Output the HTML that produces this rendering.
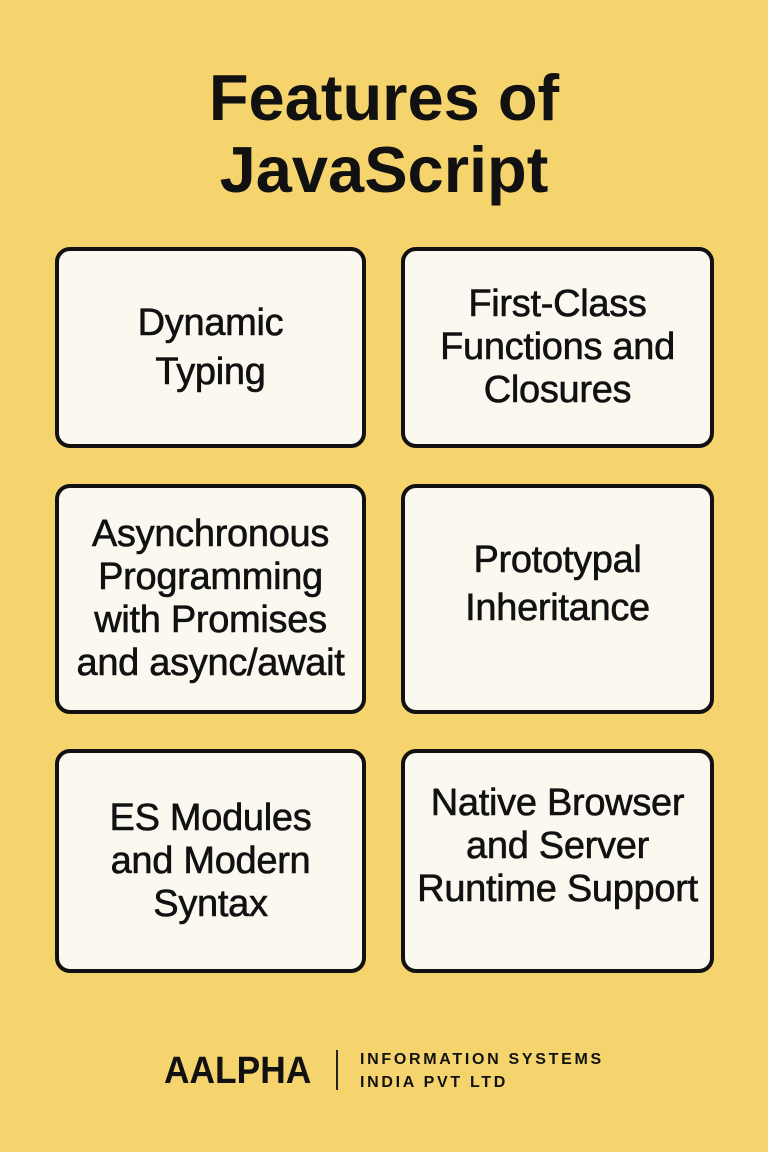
<!DOCTYPE html>
<html><head><style>
body{margin:0;width:768px;height:1152px;background:#F5D36D;font-family:"Liberation Sans",sans-serif;position:relative;overflow:hidden;color:#111}
h1{position:absolute;top:62px;left:0;width:768px;margin:0;text-align:center;font-size:65px;line-height:72px;font-weight:bold}
.b{position:absolute;box-sizing:border-box;border:4px solid #111;border-radius:15px;background:#FBF8F0;display:flex;align-items:center;justify-content:center;text-align:center;font-size:38px;line-height:43px;letter-spacing:-0.3px;-webkit-text-stroke:0.6px #111;white-space:nowrap}
</style></head><body>
<h1>Features of<br>JavaScript</h1>
<div class="b" style="left:55px;top:247px;width:311px;height:201px;line-height:49px">Dynamic<br>Typing</div>
<div class="b" style="left:401px;top:247px;width:313px;height:201px;">First-Class<br>Functions and<br>Closures</div>
<div class="b" style="left:55px;top:484px;width:311px;height:230px;">Asynchronous<br>Programming<br>with Promises<br>and async/await</div>
<div class="b" style="left:401px;top:484px;width:313px;height:230px;line-height:48px;padding-bottom:30px">Prototypal<br>Inheritance</div>
<div class="b" style="left:55px;top:749px;width:311px;height:224px;">ES Modules<br>and Modern<br>Syntax</div>
<div class="b" style="left:401px;top:749px;width:313px;height:224px;padding-bottom:30px">Native Browser<br>and Server<br>Runtime Support</div>
<div style="position:absolute;left:164px;top:1050px;font-size:38px;font-weight:bold;transform:scaleX(0.93);transform-origin:left">AALPHA</div>
<div style="position:absolute;left:336px;top:1050px;width:2px;height:40px;background:#222"></div>
<div style="position:absolute;left:360px;top:1048px;font-size:16px;font-weight:bold;line-height:23px;letter-spacing:2.7px">INFORMATION SYSTEMS<br>INDIA PVT LTD</div>
</body></html>
